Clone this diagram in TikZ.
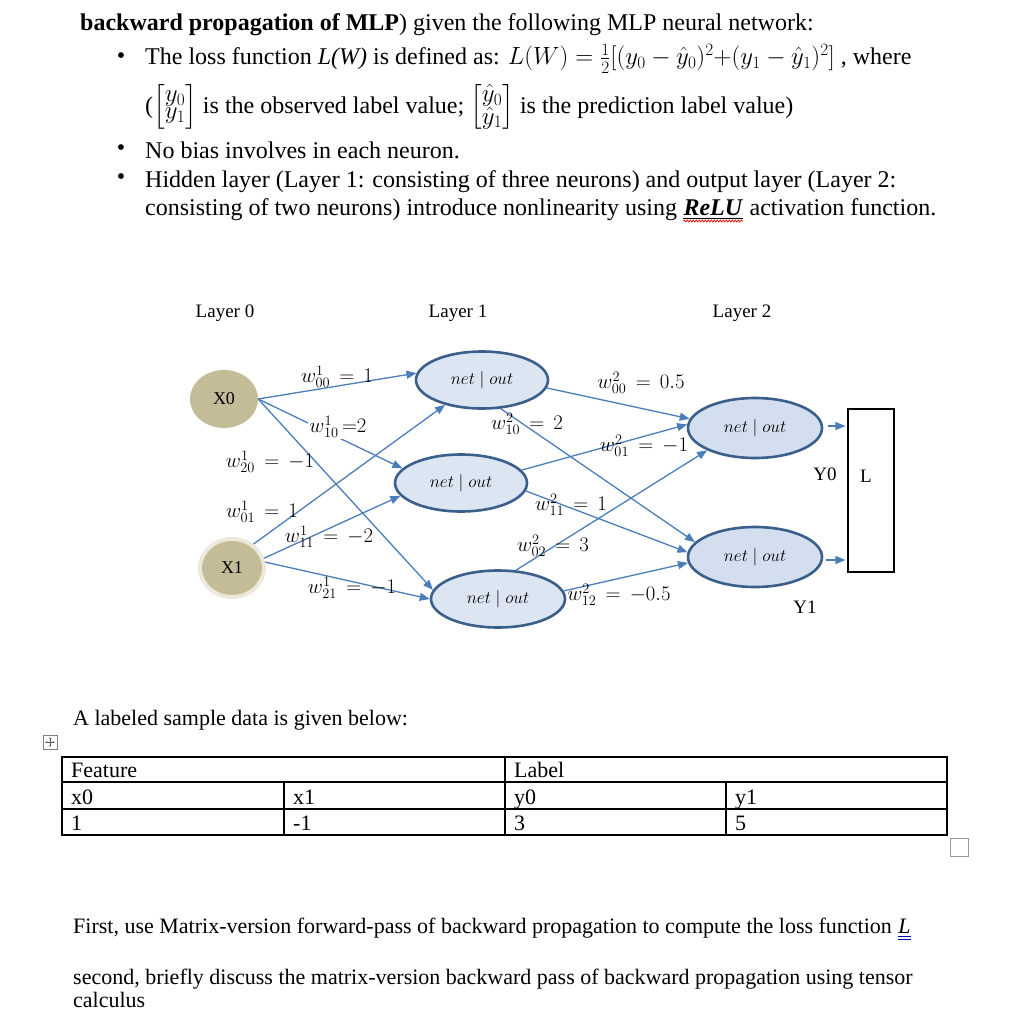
\documentclass[tikz,border=0pt]{standalone}
\usepackage{amsmath}
\usepackage{fontspec}
\setmainfont{Liberation Serif}
\usetikzlibrary{arrows.meta,shapes.geometric,decorations.pathmorphing}
\definecolor{wirec}{HTML}{4A7EBB}
\definecolor{nborder}{HTML}{3A5F8B}
\definecolor{nfill}{HTML}{DCE6F2}
\definecolor{nfill2}{HTML}{D3DFEE}
\definecolor{tan}{HTML}{C4BC96}
\definecolor{halo}{HTML}{ECE9DC}
\newcommand{\colvec}[2]{\left[\def\arraystretch{0.62}\begin{matrix}#1\\ #2\end{matrix}\right]}
\begin{document}
\begin{tikzpicture}[x=1pt,y=-1pt,
  txt/.style={anchor=base west, inner sep=0pt, font=\fontsize{24}{28}\selectfont},
  ltxt/.style={anchor=base west, inner sep=0pt, font=\fontsize{22}{26}\selectfont},
  bul/.style={inner sep=0pt, font=\fontsize{24}{28}\selectfont},
  layer/.style={inner sep=0pt, font=\fontsize{19}{22}\selectfont},
  inp/.style={ellipse, fill=tan, minimum width=68pt, minimum height=58pt, inner sep=0pt, font=\fontsize{18}{20}\selectfont},
  neuron/.style={ellipse, draw=nborder, line width=2.6pt, fill=nfill, minimum width=132pt, minimum height=57pt, inner sep=0pt, font=\fontsize{17.5}{20}\selectfont},
  wire/.style={draw=wirec, line width=1.3pt, -{Triangle[length=10pt,width=8pt]}},
  wl/.style={inner sep=1pt, font=\fontsize{20}{22}\selectfont},
  cell/.style={anchor=base west, inner sep=0pt, font=\fontsize{22}{26}\selectfont},
  grid/.style={line width=1.1pt}
]
\useasboundingbox[fill=white] (0,0) rectangle (1022,1033);

% ---------- top text ----------
\node[txt] (t1) at (80,31) {\textbf{backward propagation of MLP}) given the following MLP neural network:};
\node[bul] (b1) at (121,58) {\textbullet};
\node[txt] (t2) at (145,65) {The loss function \textit{L(W)} is defined as: $L(W)=\tfrac{1}{2}[(y_0-\hat{y}_0)^2{+}(y_1-\hat{y}_1)^2]$ , where};
\node[txt] (t3) at (145,113) {($\colvec{y_0}{y_1}$ is the observed label value; $\colvec{\hat{y}_0}{\hat{y}_1}$ is the prediction label value)};
\node[bul] (b2) at (121,150) {\textbullet};
\node[txt] (t4) at (145,158) {No bias involves in each neuron.};
\node[bul] (b3) at (121,179) {\textbullet};
\node[txt] (t5) at (145,187) {Hidden layer (Layer 1: consisting of three neurons) and output layer (Layer 2:};
\node[txt] (t6) at (145,215) {consisting of two neurons) introduce nonlinearity using};
\node[txt, anchor=base west] (relu) at ([xshift=6pt]t6.base east) {\textbf{\textit{ReLU}}};
\node[txt, anchor=base west] (t7) at ([xshift=6pt]relu.base east) {activation function.};
\draw[line width=1pt] ([yshift=-3pt]relu.base west) -- ([yshift=-3pt]relu.base east);
\draw[red, line width=0.7pt, decorate, decoration={snake, amplitude=1pt, segment length=3pt}] ([yshift=-6pt]relu.base west) -- ([yshift=-6pt]relu.base east);

% ---------- layer labels ----------
\node[layer] (lay0) at (225,313) {Layer 0};
\node[layer] (lay1) at (458,313) {Layer 1};
\node[layer] (lay2) at (742,313) {Layer 2};

% ---------- nodes ----------
\node[inp] (x0) at (224,399) {X0};
\node[inp, draw=halo, line width=4pt, minimum width=64pt, minimum height=58pt] (x1) at (232,568) {X1};
\node[neuron] (h0) at (482,380) {$net\mid out$};
\node[neuron] (h1) at (461,483) {$net\mid out$};
\node[neuron, minimum width=134pt] (h2) at (498,599) {$net\mid out$};
\node[neuron, fill=nfill2, minimum width=134pt, minimum height=60pt] (o0) at (755,428) {$net\mid out$};
\node[neuron, fill=nfill2, minimum width=134pt, minimum height=60pt] (o1) at (755,557) {$net\mid out$};
\node[draw, line width=1.1pt, minimum width=46pt, minimum height=163pt, inner sep=0pt] (Lbox) at (871,490.5) {};
\node[layer, anchor=west] (Ltxt) at (860,476) {L};
\node[layer] (y0) at (825,474) {Y0};
\node[layer] (y1) at (805,607) {Y1};

% ---------- connectors layer 0 -> 1 ----------
\path[wire] (x0.east) -- (h0.174);
\path[wire] (x0.east) -- (h1.166);
\path[wire] (x0.east) -- (h2.172);
\path[wire] (x1.48) -- (h0.214);
\path[wire] (x1.17) -- (h1.192);
\path[wire] (x1.10) -- (h2.180);
% ---------- connectors layer 1 -> 2 ----------
\path[wire] (h0.353) -- (o0.172);
\path[wire] (h0.303) -- (o1.166);
\path[wire] (h1.12) -- (o0.177);
\path[wire] (h1.353) -- (o1.176);
\path[wire] (h2.58) -- (o0.205);
\path[wire] (h2.7) -- (o1.185);
% ---------- to loss box ----------
\path[wire, shorten >=2pt] ([xshift=5pt,yshift=2pt]o0.east) -- ([yshift=2pt]o0.east -| Lbox.west);
\path[wire, shorten >=2pt] ([xshift=3pt,yshift=-3pt]o1.east) -- ([yshift=-3pt]o1.east -| Lbox.west);

% ---------- weight labels ----------
\node[wl] (w100) at (337,377) {$w^1_{00}\,=\,1$};
\node[wl, fill=white] (w110) at (338,427) {$w^1_{10}\,{=}2$};
\node[wl] (w120) at (270,462) {$w^1_{20}\,=\,-1$};
\node[wl] (w101) at (262,512) {$w^1_{01}\,=\,1$};
\node[wl] (w111) at (329,537) {$w^1_{11}\,=\,-2$};
\node[wl] (w121) at (352,588) {$w^1_{21}\,=\,-1$};
\node[wl] (w210) at (527,424) {$w^2_{10}\,=\,2$};
\node[wl] (w200) at (641,383) {$w^2_{00}\,=\,0.5$};
\node[wl] (w201) at (644,446) {$w^2_{01}\,=\,-1$};
\node[wl] (w211) at (571,505) {$w^2_{11}\,=\,1$};
\node[wl] (w202) at (553,546) {$w^2_{02}\,=\,3$};
\node[wl] (w212) at (619,595) {$w^2_{12}\,=\,-0.5$};

% ---------- lower text ----------
\node[ltxt] (s1) at (73,725) {A labeled sample data is given below:};
% move handle icon
\draw[gray, line width=0.8pt] (43,735) rectangle (57,749);
\draw[gray!70!black, line width=0.7pt, <->, >={Stealth[length=2pt]}] (45,742) -- (55,742);
\draw[gray!70!black, line width=0.7pt, <->, >={Stealth[length=2pt]}] (50,737) -- (50,747);

% table
\draw[grid] (62,757) rectangle (947,835);
\draw[grid] (62,782) -- (947,782);
\draw[grid] (62,809) -- (947,809);
\draw[grid] (505,757) -- (505,835);
\draw[grid] (284,782) -- (284,835);
\draw[grid] (726,782) -- (726,835);
\node[cell] (c11) at (71,777) {Feature};
\node[cell] (c13) at (514,777) {Label};
\node[cell] (c21) at (71,804) {x0};
\node[cell] (c22) at (293,804) {x1};
\node[cell] (c23) at (514,804) {y0};
\node[cell] (c24) at (735,804) {y1};
\node[cell] (c31) at (71,830) {1};
\node[cell] (c32) at (293,830) {-1};
\node[cell] (c33) at (514,830) {3};
\node[cell] (c34) at (735,830) {5};
\draw[gray!80, line width=1pt] (950,838) rectangle (968,856);

\node[ltxt] (f1) at (73,933) {First, use Matrix-version forward-pass of backward propagation to compute the loss function};
\node[ltxt, anchor=base west] (fL) at ([xshift=6pt]f1.base east) {\textit{L}};
\draw[blue!70!black, line width=0.7pt] ([yshift=-3pt]fL.base west) -- ([yshift=-3pt]fL.base east);
\draw[blue!70!black, line width=0.7pt] ([yshift=-6pt]fL.base west) -- ([yshift=-6pt]fL.base east);
\node[ltxt] (f2) at (73,984) {second, briefly discuss the matrix-version backward pass of backward propagation using tensor};
\node[ltxt] (f3) at (73,1007) {calculus};
\end{tikzpicture}
\end{document}
